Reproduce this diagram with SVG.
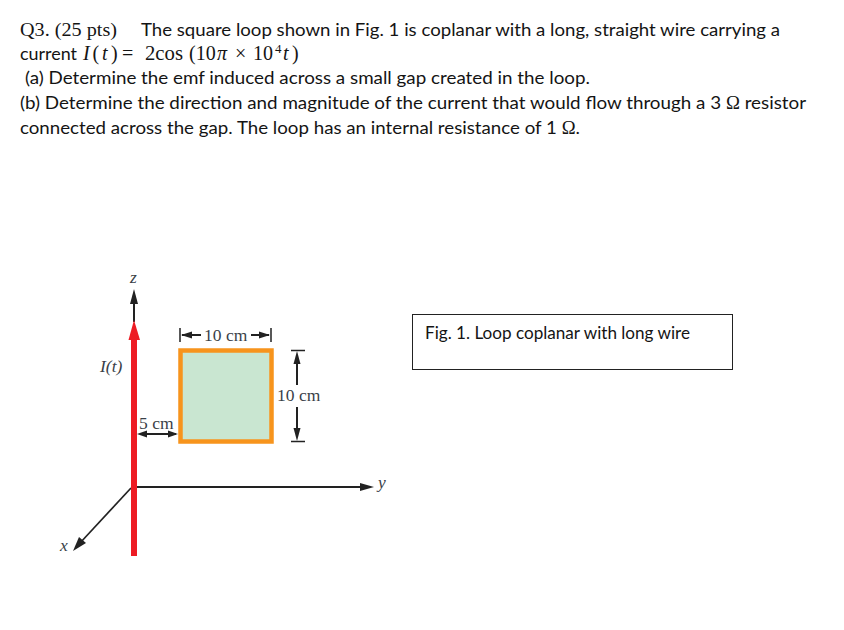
<svg xmlns="http://www.w3.org/2000/svg" width="844" height="630" viewBox="0 0 844 630">
<style>
.t{font-family:"Lato","Liberation Sans",sans-serif;font-size:18px;fill:#141414}
.q{font-family:"Liberation Serif","Times New Roman",serif;font-size:18px;fill:#141414}
.m{font-family:"Liberation Serif","Times New Roman",serif;font-size:20px;fill:#141414}
.f{font-family:"Liberation Serif","Times New Roman",serif;font-size:17.500px;fill:#3a3f48}
.i{font-style:italic}
.l{stroke:#222;fill:none;stroke-width:2}
.h{fill:#222}
</style>
<rect width="844" height="630" fill="#fff"/>
<g id="question">
<text class="q" x="20" y="36" textLength="97" lengthAdjust="spacingAndGlyphs">Q3. (25 pts)</text>
<text class="t" x="141" y="36" textLength="639" lengthAdjust="spacingAndGlyphs">The square loop shown in Fig. 1 is coplanar with a long, straight wire carrying a</text>
<text class="t" x="20" y="60" textLength="57" lengthAdjust="spacingAndGlyphs">current</text>
<text class="m i" x="83" y="60">I</text>
<text class="m" x="92.500" y="60">(</text><text class="m i" x="102" y="60">t</text><text class="m" x="111" y="60">)</text>
<text class="m" x="122" y="60">=</text>
<text class="m" x="145" y="60" textLength="38" lengthAdjust="spacingAndGlyphs">2cos</text>
<text class="m" x="189" y="60">(10</text><text class="m i" x="217" y="60">π</text>
<text class="m" x="235" y="60">×</text>
<text class="m" x="253" y="60">10</text><text class="m" x="275" y="53" style="font-size:13px">4</text><text class="m i" x="283" y="60">t</text><text class="m" x="292" y="60">)</text>
<text class="t" x="25" y="84" textLength="565" lengthAdjust="spacingAndGlyphs">(a) Determine the emf induced across a small gap created in the loop.</text>
<text class="t" x="20" y="109" textLength="786" lengthAdjust="spacingAndGlyphs">(b) Determine the direction and magnitude of the current that would flow through a 3 <tspan font-family="Liberation Serif">Ω</tspan> resistor</text>
<text class="t" x="20" y="134" textLength="560" lengthAdjust="spacingAndGlyphs">connected across the gap. The loop has an internal resistance of 1 <tspan font-family="Liberation Serif">Ω</tspan>.</text>
</g>
<g id="caption">
<rect x="412.500" y="314.500" width="320" height="55" fill="#fff" stroke="#222" stroke-width="1"/>
<text class="t" x="425" y="339" textLength="265" lengthAdjust="spacingAndGlyphs">Fig. 1. Loop coplanar with long wire</text>
</g>
<g id="connectors">
<path class="l" d="M134 322V300"/>
<polygon class="h" points="134,289 138,304 130,304"/>
<path class="l" d="M137 487H364"/>
<polygon class="h" points="374,487 360,483 360,491"/>
<path class="l" style="stroke-width:1.700" d="M131 488L80 543"/>
<polygon class="h" points="73,551 79,537 86,543"/>
<path class="l" d="M140 434H176"/>
<polygon class="h" points="137,434 147,430.500 147,437.500"/>
<polygon class="h" points="178,434 168,430.500 168,437.500"/>
<path class="l" d="M182 335H201M251 335H269"/>
<path class="l" style="stroke-width:1.500" d="M180 328V342M271 328V342"/>
<polygon class="h" points="181,335 192,331.500 192,338.500"/>
<polygon class="h" points="270,335 259,331.500 259,338.500"/>
<path class="l" d="M297 360V385M297 407V432"/>
<path class="l" style="stroke-width:1.500" d="M291 350.500H305M291 441.500H305"/>
<polygon class="h" points="297,351 293.500,364 300.500,364"/>
<polygon class="h" points="297,441 293.500,428 300.500,428"/>
</g>
<g id="wire">
<rect x="131" y="338" width="6" height="218" fill="#ed1c24"/>
<polygon points="134,320 140,340 128.500,340" fill="#ed1c24"/>
</g>
<g id="loop">
<rect x="180.500" y="350.500" width="91" height="91" fill="#c9e6d1" stroke="#f7941d" stroke-width="4.500"/>
</g>
<g id="labels">
<text class="f i" x="130" y="283">z</text>
<text class="f i" x="100" y="372">I(t)</text>
<text class="f" x="204" y="341">10 cm</text>
<text class="f" x="277" y="401">10 cm</text>
<text class="f" x="139" y="429">5 cm</text>
<text class="f i" x="378" y="488">y</text>
<text class="f i" x="60" y="551">x</text>
</g>
</svg>
